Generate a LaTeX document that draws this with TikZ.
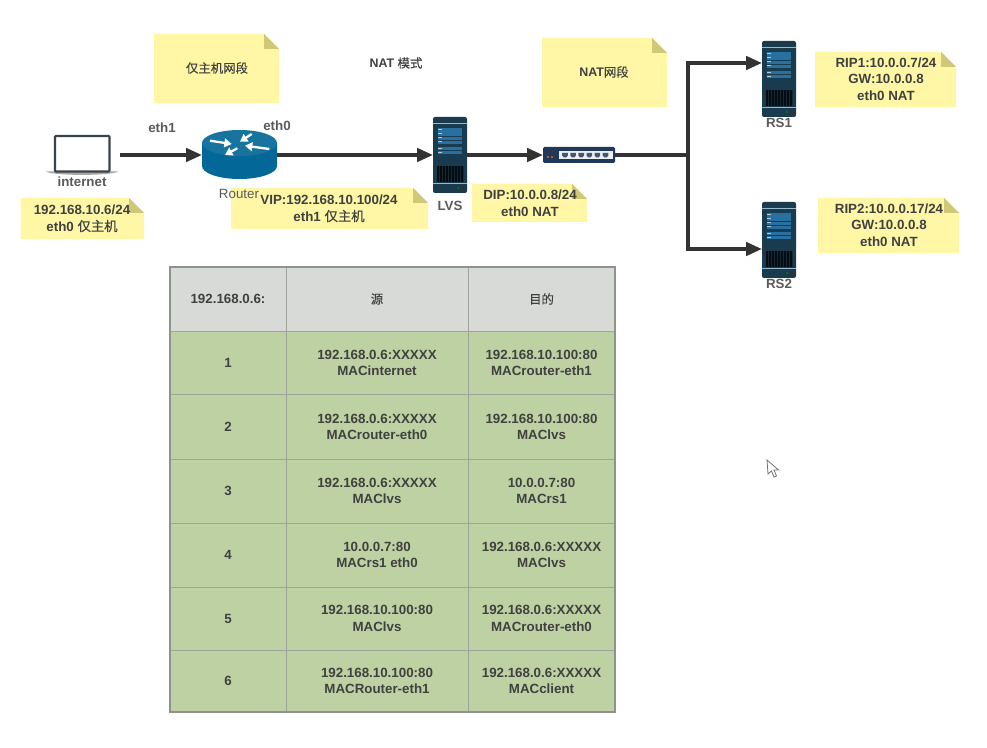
\documentclass[tikz,border=0pt]{standalone}
\usepackage{fontspec}
\setmainfont{Liberation Sans}
\newfontfamily\cjk[BoldFont={Noto Sans CJK SC},BoldFeatures={FakeBold=0.25}]{Noto Sans CJK SC}
\usetikzlibrary{arrows.meta,calc}
\definecolor{notey}{HTML}{FFF7A6}
\definecolor{notefold}{HTML}{CFC977}
\definecolor{txt}{HTML}{404040}
\definecolor{lbl}{HTML}{5A5A5A}
\definecolor{wire}{HTML}{333333}
\definecolor{srv}{HTML}{1A3A4E}
\definecolor{srvbar}{HTML}{27709F}
\definecolor{swc}{HTML}{20395A}
\definecolor{hdr}{HTML}{D8DAD8}
\definecolor{rowg}{HTML}{BED1A2}
\definecolor{grid}{HTML}{9EA39B}
\definecolor{rtr}{HTML}{036897}
\tikzset{
  wirestyle/.style={draw=wire,line width=2.7pt,-{Triangle[length=12pt,width=10pt]}},
  wireplain/.style={draw=wire,line width=2.7pt},
  txtb/.style={font=\fontsize{10}{12.4}\selectfont\bfseries,text=txt,align=center,inner sep=0pt},
  txts/.style={txtb,font=\fontsize{9.3}{12}\selectfont\bfseries},
  lblb/.style={font=\fontsize{10}{12}\selectfont\bfseries,text=lbl,align=center,inner sep=0pt},
  lblr/.style={font=\fontsize{10}{12}\selectfont,text=lbl,align=center,inner sep=0pt},
  cell/.style={draw=grid,line width=0.75pt,inner sep=0pt,outer sep=0pt,anchor=north west,align=center,
    font=\fontsize{10}{12.2}\selectfont\bfseries,text=txt},
  hcell/.style={cell,fill=hdr},
  bcell/.style={cell,fill=rowg},
}
\newcommand{\stickynote}[9]{%
  \fill[notey] (#2,#3) -- (#4-15,#3) -- (#4,#3+15) -- (#4,#5) -- (#2,#5) -- cycle;
  \fill[notefold] (#4-15,#3) -- (#4,#3+15) -- (#4-15,#3+15) -- cycle;
  \node[#9] (#1) at (#6,#7) {#8};
}
\newcommand{\serverbox}[3]{%
  \node[inner sep=0pt,outer sep=0pt,minimum width=25.5pt,minimum height=57pt,anchor=north west,
    fill=srv,rounded corners=1.5pt] (#1) at (#2,#3) {};
  \begin{scope}[shift={(#2,#3)}]
    \fill[srvbar!50!white] (0,6.2) rectangle (34,7.2);
    \fill[srvbar!50!white] (0,66.2) rectangle (34,67.2);
    \foreach \ya/\yb in {11.3/14.7,15.3/18.7,19.7/23,23.7/27,30/33.3,34/37.3}{
      \fill[srvbar] (5,\ya) rectangle (29,\yb);
      \fill[srvbar!35!white] (5,\ya+0.8) rectangle (9,\ya+1.8);
    }
    \fill[black!80!srv] (4,49) rectangle (31,65);
    \foreach \g in {6,9,...,30}{\draw[srv!70!black,line width=0.25pt] (\g,49) -- (\g,65);}
    \fill[green!55!black] (25,71) circle (1);
    \fill[red!60!black] (30,71) circle (1);
  \end{scope}
}
\begin{document}
\begin{tikzpicture}[x=0.75pt,y=-0.75pt]
\useasboundingbox[fill=white] (0,0) rectangle (987,748);

% notes
\stickynote{nhost}{154}{34}{279}{103}{217}{68}{{\cjk 仅主机网段}}{txts}
\stickynote{nnat}{542}{38}{667}{107}{604}{72}{NAT{\cjk 网段}}{txts}
\stickynote{nclient}{20.5}{198}{144}{239}{82}{218.5}{192.168.10.6/24\\eth0 {\cjk 仅主机}}{txtb}
\stickynote{nvip}{231}{188}{428}{229}{329}{208.5}{VIP:192.168.10.100/24\\eth1 {\cjk 仅主机}}{txtb}
\stickynote{ndip}{472}{184}{587}{222}{530}{203}{DIP:10.0.0.8/24\\eth0 NAT}{txtb}
\stickynote{nrip1}{815}{52}{956}{107}{886}{79}{RIP1:10.0.0.7/24\\GW:10.0.0.8\\eth0 NAT}{txtb}
\stickynote{nrip2}{818}{198}{959}{253}{889}{225}{RIP2:10.0.0.17/24\\GW:10.0.0.8\\eth0 NAT}{txtb}
\node[txts] (title) at (396,63) {NAT {\cjk 模式}};

% laptop
\node[inner sep=0pt,outer sep=0pt,minimum width=55.5pt,minimum height=30pt,anchor=north west] (laptop) at (46,135) {};
\fill[black!35] (46,171.5) -- (118,171.5) .. controls (112,176) and (52,176) .. (46,171.5) -- cycle;
\draw[fill=white,draw=black!65!srv!80!white,line width=1.6pt,rounded corners=0.6pt] (55,136) rectangle (109.5,171.5);
\node[lblb] (linternet) at (82,182) {internet};

% router
\node[inner sep=0pt,outer sep=0pt,minimum width=56.25pt,minimum height=37.5pt,anchor=north west] (router) at (202,130) {};
\fill[rtr] (202,143) -- (202,166) arc[start angle=180,end angle=0,x radius=37.5,y radius=13] -- (277,143) -- cycle;
\fill[rtr!92!white] (239.5,143) ellipse[x radius=37.5,y radius=13];
\foreach \p/\q in {{210,140.7}/{231.7,144},{251.7,134}/{240,141.7},{269.3,149}/{245,145.7},{237.3,148.3}/{225,155}}{
  \draw[white,line width=1.7pt,-{Triangle[length=5.5pt,width=6.5pt]}] (\p) -- (\q);
}
\node[lblr] (lrouter) at (239,194) {Router};
\node[lblb] (leth1) at (162,128) {eth1};
\node[lblb] (leth0) at (277,126) {eth0};

% servers
\serverbox{lvs}{433}{117}
\serverbox{rs1}{762}{41}
\serverbox{rs2}{762}{202}
\node[lblb] (llvs) at (450,206) {LVS};
\node[lblb] (lrs1) at (779,123) {RS1};
\node[lblb] (lrs2) at (779,284) {RS2};

% switch
\node[inner sep=0pt,outer sep=0pt,minimum width=54pt,minimum height=12pt,anchor=north west,fill=swc,rounded corners=1pt] (switch) at (543,147) {};
\fill[white!92!swc] (559,151.5) rectangle (612.5,159.5);
\foreach \g in {565,573.1,...,607}{\fill[swc!85!white] (\g-2.8,152.8) -- (\g+2.8,152.8) -- (\g+2.8,155.5) -- (\g+1.2,157.5) -- (\g-1.2,157.5) -- (\g-2.8,155.5) -- cycle;}
\fill[orange!80!red] (548,157) circle (1.2);
\fill[orange!80!red] (552,157) circle (1.2);

% connectors
\coordinate (bus) at (688,155);
\coordinate (start) at (120,155);
\draw[wirestyle] (start) -- (router.west |- start);
\draw[wirestyle] (router.east |- start) -- (lvs.west |- start);
\draw[wirestyle] (lvs.east |- start) -- (switch.west);
\draw[wireplain] (switch.east) -- (bus);
\draw[wirestyle] (bus) |- ($(rs1.west)+(0,-16)$);
\draw[wirestyle] (bus) |- ($(rs2.west)+(0,9)$);

% table
\node[hcell,minimum width=87pt,minimum height=48pt] (thda) at (170,267) {192.168.0.6:};
\node[hcell,minimum width=136.5pt,minimum height=48pt] (thdb) at (286,267) {\fontsize{9.3}{12}\selectfont{\cjk 源}};
\node[hcell,minimum width=110.25pt,minimum height=48pt] (thdc) at (468,267) {\fontsize{9.3}{12}\selectfont{\cjk 目的}};
\foreach \r/\ya/\h/\bb/\cc in {
  1/331/63.5/{192.168.0.6:XXXXX\\MACinternet}/{192.168.10.100:80\\MACrouter-eth1},
  2/394.5/64.5/{192.168.0.6:XXXXX\\MACrouter-eth0}/{192.168.10.100:80\\MAClvs},
  3/459/64/{192.168.0.6:XXXXX\\MAClvs}/{10.0.0.7:80\\MACrs1},
  4/523/64/{10.0.0.7:80\\MACrs1 eth0}/{192.168.0.6:XXXXX\\MAClvs},
  5/587/63/{192.168.10.100:80\\MAClvs}/{192.168.0.6:XXXXX\\MACrouter-eth0},
  6/650/62/{192.168.10.100:80\\MACRouter-eth1}/{192.168.0.6:XXXXX\\MACclient}}{
  \node[bcell,minimum width=87pt,minimum height=\h*0.75pt] (t\r a) at (170,\ya) {\r};
  \node[bcell,minimum width=136.5pt,minimum height=\h*0.75pt] (t\r b) at (286,\ya) {\bb};
  \node[bcell,minimum width=110.25pt,minimum height=\h*0.75pt] (t\r c) at (468,\ya) {\cc};
}
\draw[grid!90!black,line width=1.3pt] (170,267) rectangle (615,712);

% cursor
\draw[fill=white,draw=black!55,line width=0.6pt] (767,460) -- (768,474) -- (771.5,471) -- (774,477) -- (776.5,476) -- (774,470) -- (778.5,470) -- cycle;
\end{tikzpicture}
\end{document}
